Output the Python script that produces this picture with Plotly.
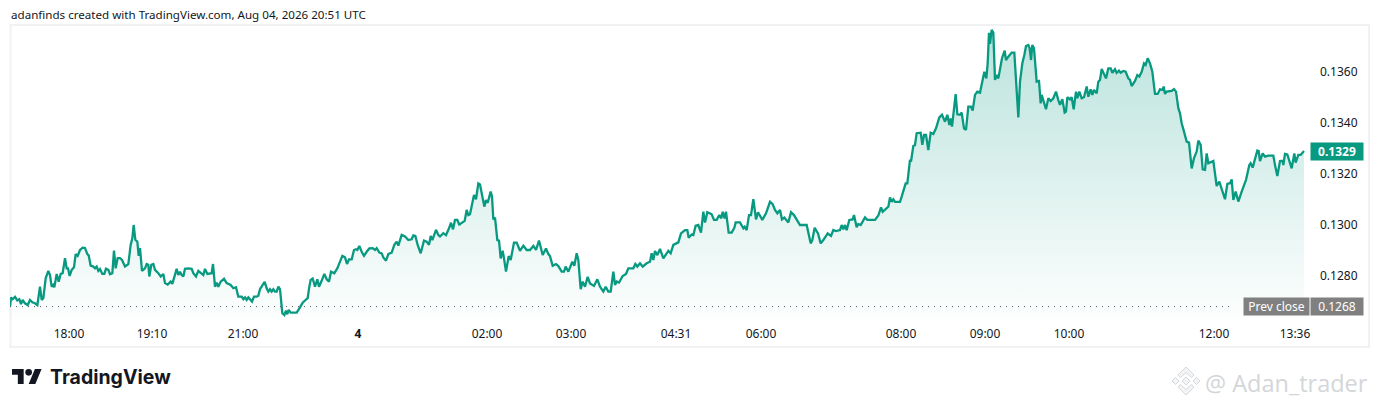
import plotly.graph_objects as go

# ---- data -----------------------------------------------------------------
bars = [30,33,38,45,52,58,63,68,75,83,90,97,105,112,120,125,130,137,145,150,155,160,163,170,176,182,188,195,200,204,209,215,222,227,233,240,248,255,262,266,272,280,285,290,295,300,307,313,318,325,330,337,342,347,353,360,366,375,385,392,397,401,406,412,416,420,426,435,440,445,448,454,460,465,475,482,490,495,503,512,517,522,530,535,540,545,550,555,565,575,580,588,595,603,610,615,622,635,639,645,650,655,662,672,680,692,700,708,715,725,730,735,740,745,750,756,762,770,775,780,788,794,800,805,810,815,820,825,830,835,840,847,853,858,862,866,872,890,900,908,915,923,928,932,938,945,952,957,965,973,980,987,993,1003,1012,1020,1027,1035,1041,1047,1055,1062,1068,1072,1078,1085,1092,1100,1108,1118,1125,1130,1138,1145,1150,1158,1165,1175,1183,1190,1195,1205,1215,1225,1235,1240,1246,1253,1262,1272,1280,1287,1292,1297,1308,1315,1320,1330,1338,1347,1353,1359,1365,1372,1378,
1380,1388,1394,1400,1405,1410,1422,1428,1435,1440,1447,1453,1458,1463,1472,1476,1480,1485,1492,1497,1502,1508,1512,1518,1526,1532,1542,1550,1560,1570,1580,1590,1600,1608,1617,1628,1638,1645,1650,1658,1668,1675,1685,1692,1697,1705,1717,1723,1730,1735,1742,1748,1755,1763,1770,1782,1792,1800,1810,1817,1825,1832,1840,1845,1850,1857,1868,1878,1885,1900,1906,1912,1920,1928,1940,1950,1955,1960,1965,1972,1980,1990,2005,2012,2020,2035,2043,2055,2062,2066,2075,2080,2087,2095,2103,2110,2115,2122,2135,2142,2150,2158,2164,2168,2174,2178,2186,2195,2203,2207,2220,2230,2234,2240,2247,2253,2260,2268,2274,2287,2298,2310,2318,2325,2332,2340,2346,2353,2365,2373,2382,2400,2420,2432,2437,2444,2454,2462,2470,2483,2493,2500,2508,2520,2525,2530,2535,2540,2548,2558,2562,2570,2575,2582,2595,2602,2625,2635,2643,2648,2665,2670,2675,2680,2685,2700,2705,2712,2717,2722,2730,
2733,2740,2745,2750,2762,2767,2772,2778,2785,2792,2800,2808,2818,2826,2835,2842,2848,2852,2856,2862,2867,2872,2880,2885,2892,2898,2905,2913,2918,2925,2932,2940,2947,2953,2959,2963,2967,2970,2975,2980,2985,2990,2995,3000,3006,3014,3018,3025,3035,3043,3048,3055,3060,3067,3073,3078,3085,3089,3093,3097,3102,3110,3117,3122,3125,3132,3138,3145,3152,3160,3168,3175,3180,3187,3194,3198,3202,3210,3215,3221,3228,3232,3238,3245,3252,3260,3265,3272,3277,3282,3290,3295,3300,3305,3312,3318,3325,3332,3337,3345,3350,3357,3362,3370,3377,3385,3390,3395,3405,3412,3418,3425,3432,3437,3443,3450,3457,3465,3473,3480,3488,3491,3495,3500,3515,3522,3528,3535,3540,3545,3552,3560,3567,3575,3582,3590,3595,3602,3608,3615,3620,3625,3640,3650,3658,3670,3675,3682,3690,3695,3700,3707,3715,3725,3738,3748,3752,3758,3765,3772,3776,3780,3788,3795,3805,3820,3825,3832,3840,3848,3850,3855,3862,3875,3883,3887,3895,3902,3912]

prices = [0.12680,0.12716,0.12709,0.12718,0.12704,0.12709,0.12690,0.12706,0.12693,0.12686,0.12706,0.12697,0.12693,0.12686,0.12758,0.12706,0.12713,0.12791,0.12820,0.12804,0.12758,0.12765,0.12756,0.12808,0.12778,0.12808,0.12811,0.12870,0.12830,0.12830,0.12800,0.12824,0.12834,0.12886,0.12879,0.12902,0.12911,0.12910,0.12886,0.12881,0.12841,0.12837,0.12830,0.12837,0.12820,0.12827,0.12808,0.12808,0.12829,0.12824,0.12807,0.12811,0.12900,0.12830,0.12870,0.12870,0.12863,0.12837,0.12847,0.12922,0.12948,0.13000,0.12942,0.12935,0.12879,0.12909,0.12820,0.12830,0.12847,0.12844,0.12798,0.12844,0.12847,0.12824,0.12811,0.12798,0.12808,0.12772,0.12766,0.12778,0.12769,0.12791,0.12828,0.12804,0.12817,0.12804,0.12798,0.12828,0.12830,0.12828,0.12811,0.12798,0.12820,0.12811,0.12804,0.12828,0.12808,0.12811,0.12847,0.12758,0.12774,0.12758,0.12778,0.12789,0.12772,0.12765,0.12752,0.12756,0.12719,0.12719,0.12709,0.12716,0.12706,0.12716,0.12709,0.12700,0.12719,0.12719,0.12723,0.12748,0.12765,0.12777,0.12752,0.12739,0.12748,0.12739,0.12748,0.12739,0.12739,0.12758,0.12748,0.12654,0.12647,0.12664,0.12650,0.12667,0.12656,0.12656,0.12677,0.12695,0.12704,0.12713,0.12758,0.12785,0.12790,0.12758,0.12787,0.12758,0.12781,0.12808,0.12787,0.12778,0.12817,0.12811,0.12830,0.12857,0.12879,0.12873,0.12847,0.12865,0.12865,0.12902,0.12905,0.12902,0.12918,0.12895,0.12879,0.12895,0.12908,0.12909,0.12902,0.12909,0.12892,0.12889,0.12873,0.12860,0.12886,0.12892,0.12922,0.12935,0.12919,0.12961,0.12955,0.12941,0.12944,0.12959,0.12957,0.12922,0.12889,0.12939,0.12935,0.12922,0.12957,0.12941,0.12981,0.12961,0.12955,0.12968,0.12960,0.12987,0.13009,0.12983,0.13020,0.13020,0.13000,
0.13004,0.13013,0.13016,0.13059,0.13039,0.13042,0.13118,0.13101,0.13163,0.13159,0.13111,0.13072,0.13098,0.13087,0.13131,0.13111,0.13022,0.13029,0.12941,0.12939,0.12869,0.12899,0.12869,0.12817,0.12878,0.12863,0.12931,0.12931,0.12899,0.12919,0.12902,0.12902,0.12918,0.12902,0.12939,0.12882,0.12908,0.12886,0.12878,0.12840,0.12847,0.12839,0.12817,0.12817,0.12837,0.12817,0.12856,0.12840,0.12889,0.12863,0.12748,0.12778,0.12758,0.12797,0.12771,0.12761,0.12787,0.12758,0.12739,0.12758,0.12739,0.12739,0.12817,0.12765,0.12778,0.12774,0.12800,0.12808,0.12830,0.12830,0.12847,0.12837,0.12850,0.12837,0.12850,0.12856,0.12889,0.12863,0.12898,0.12882,0.12906,0.12869,0.12899,0.12889,0.12922,0.12932,0.12967,0.12980,0.12980,0.12950,0.12963,0.12961,0.12997,0.13000,0.12970,0.13052,0.13010,0.13050,0.13042,0.13020,0.13020,0.13039,0.13026,0.13052,0.13026,0.13052,0.12970,0.12970,0.12989,0.13010,0.13010,0.12987,0.12993,0.12980,0.13039,0.13039,0.13101,0.13022,0.13050,0.13020,0.13046,0.13091,0.13082,0.13059,0.13046,0.13059,0.13022,0.13029,0.13010,0.13050,0.13039,0.13000,0.13000,0.12928,0.12941,0.12989,0.12967,0.12928,0.12941,0.12967,0.12957,0.12980,0.12976,0.12980,0.13000,0.12983,0.13000,0.12980,0.13020,0.13022,0.13039,0.12991,0.13004,0.13000,0.13030,0.13020,0.13020,0.13037,0.13069,0.13052,0.13072,0.13108,0.13091,0.13101,0.13091,0.13091,0.13111,0.13137,0.13163,0.13163,0.13255,
0.13249,0.13310,0.13314,0.13360,0.13362,0.13314,0.13353,0.13353,0.13294,0.13362,0.13357,0.13379,0.13422,0.13432,0.13405,0.13432,0.13392,0.13418,0.13386,0.13471,0.13513,0.13434,0.13432,0.13441,0.13379,0.13373,0.13464,0.13464,0.13449,0.13510,0.13523,0.13519,0.13569,0.13601,0.13575,0.13634,0.13754,0.13710,0.13765,0.13754,0.13569,0.13588,0.13575,0.13614,0.13654,0.13684,0.13647,0.13660,0.13676,0.13676,0.13556,0.13422,0.13562,0.13634,0.13667,0.13702,0.13706,0.13693,0.13647,0.13706,0.13693,0.13562,0.13565,0.13477,0.13510,0.13477,0.13454,0.13497,0.13486,0.13497,0.13523,0.13490,0.13471,0.13493,0.13441,0.13445,0.13501,0.13493,0.13501,0.13454,0.13523,0.13497,0.13523,0.13497,0.13501,0.13543,0.13503,0.13532,0.13510,0.13530,0.13516,0.13562,0.13569,0.13612,0.13588,0.13575,0.13614,0.13614,0.13597,0.13611,0.13597,0.13605,0.13597,0.13604,0.13601,0.13575,0.13569,0.13545,0.13565,0.13588,0.13582,0.13601,0.13634,0.13628,0.13654,0.13634,0.13601,0.13514,0.13514,0.13532,0.13530,0.13543,0.13514,0.13523,0.13526,0.13533,0.13523,0.13458,0.13438,0.13399,0.13366,0.13327,0.13323,0.13222,0.13262,0.13288,0.13331,0.13314,0.13218,0.13216,0.13281,0.13242,0.13251,0.13153,0.13170,0.13118,0.13101,0.13161,0.13164,0.13179,0.13098,0.13131,0.13092,0.13131,0.13177,0.13235,0.13242,0.13225,0.13255,0.13292,0.13290,0.13251,0.13281,0.13268,0.13272,0.13272,0.13235,0.13192,0.13251,0.13252,0.13235,0.13279,0.13277,0.13222,0.13281,0.13245,0.13275,0.13275,0.13290]

if len(bars) != len(prices):
    raise SystemExit(f"length mismatch bars={len(bars)} prices={len(prices)}")

last_price = 0.1329
prev_close = 0.1268
y_ticks = [0.1280, 0.1300, 0.1320, 0.1340, 0.1360]
x_tick_bars = [207, 456, 729, 1074, 1461, 1713, 2028, 2283, 2703, 2955, 3207, 3642, 3885]
x_tick_text = ["18:00", "19:10", "21:00", "<b>4</b>", "02:00", "03:00", "04:31", "06:00", "08:00", "09:00", "10:00", "12:00", "13:36"]

# ---- page geometry ---------------------------------------------------------
W, H = 1378, 407
L, R, T, B = 10, 1310, 26, 318
LINE = "#089981"
TEXT = "#131722"
FONT = "Trebuchet MS, Noto Sans, sans-serif"

def px(x):
    return (x - L) / (R - L)

def py(y):
    return (B - y) / (B - T)

fig = go.Figure()
axis_bottom = 0.126353
fig.add_trace(go.Scatter(x=bars, y=[axis_bottom] * len(bars), mode="lines",
                         line=dict(width=0), hoverinfo="skip", showlegend=False))
fig.add_trace(go.Scatter(x=bars, y=prices, mode="lines", fill="tonexty",
                         fillgradient=dict(type="vertical", start=0.1378, stop=axis_bottom,
                                           colorscale=[[0, "rgba(8,153,129,0.28)"], [1, "rgba(8,153,129,0.01)"]]),
                         line=dict(color=LINE, width=2.3), hoverinfo="skip", showlegend=False))

shapes = [
    dict(type="rect", xref="paper", yref="paper", x0=px(10.5), x1=px(1369), y0=py(347), y1=py(25),
         line=dict(color="#f0f1f3", width=2), fillcolor="rgba(0,0,0,0)", layer="below"),
    dict(type="line", xref="x", yref="y", x0=bars[0], x1=3699, y0=prev_close, y1=prev_close,
         line=dict(color="#555a66", width=1, dash="1px 5px")),
]

# TradingView logo
s = 30 / 36
def lx(v): return 12 + v * s
def ly(v): return 369 + (v - 4) * s
def path(points):
    return "M" + " L".join(f"{px(lx(a)):.5f},{py(ly(b)):.5f}" for a, b in points) + " Z"
for pts in ([(14, 22), (7, 22), (7, 11), (0, 11), (0, 4), (14, 4)], [(28, 22), (20, 22), (27.5, 4), (35.5, 4)]):
    shapes.append(dict(type="path", xref="paper", yref="paper", path=path(pts), fillcolor="#131722", line=dict(width=0)))
shapes.append(dict(type="circle", xref="paper", yref="paper", x0=px(lx(16)), x1=px(lx(24)), y0=py(ly(12)), y1=py(ly(4)),
                   fillcolor="#131722", line=dict(width=0)))

# Binance watermark mark
cx, cy = 1186, 381
def wpath(points, close=False):
    d = "M" + " L".join(f"{px(cx + a):.5f},{py(cy + b):.5f}" for a, b in points)
    return d + (" Z" if close else "")
marks = [([(-4, 0), (0, -4), (4, 0), (0, 4)], True),
         ([(-14, 0), (-10.5, -3.5), (-7, 0), (-10.5, 3.5)], True),
         ([(14, 0), (10.5, -3.5), (7, 0), (10.5, 3.5)], True),
         ([(-8, -6), (0, -14), (8, -6), (5.5, -3.5), (0, -8.5), (-5.5, -3.5)], True),
         ([(-8, 6), (0, 14), (8, 6), (5.5, 3.5), (0, 8.5), (-5.5, 3.5)], True)]
for pts, c in marks:
    shapes.append(dict(type="path", xref="paper", yref="paper", path=wpath(pts, c),
                       fillcolor="#f3f4f5", line=dict(color="#d6d9dc", width=1)))

def label(text, x, y, yref="paper", **kw):
    base = dict(text=text, xref="paper", yref=yref, x=x, y=y, showarrow=False, xanchor="left", yanchor="middle")
    base.update(kw)
    return base

annotations = [
    label("adanfinds created with TradingView.com, Aug 04, 2026 20:51 UTC", px(10), py(15),
          font=dict(family=FONT, size=11.6, color=TEXT), borderpad=0),
    label(f"<b>{last_price:.4f}</b>", px(1310), last_price, yref="y", xanchor="left", width=52, height=17,
          bgcolor=LINE, align="center", font=dict(family=FONT, size=12, color="#ffffff"), borderpad=0),
    label("Prev close", px(1243), prev_close, yref="y", width=65, height=17, bgcolor="#808080", align="center",
          font=dict(family=FONT, size=12, color="#ffffff"), borderpad=0),
    label(f"{prev_close:.4f}", px(1310), prev_close, yref="y", width=52, height=17, bgcolor="#808080", align="center",
          font=dict(family=FONT, size=12, color="#ffffff"), borderpad=0),
    label("<b>TradingView</b>", px(47.5), py(377), font=dict(family="Inter, Noto Sans, sans-serif", size=19.5, color="#131722")),
    label("@ Adan_trader", px(1203), py(382.5), font=dict(family="Open Sans, sans-serif", size=23.5, color="#d3d6d9")),
]

fig.update_layout(
    width=W, height=H, autosize=False,
    margin=dict(l=L, r=W - R, t=T, b=H - B, pad=0),
    paper_bgcolor="#ffffff", plot_bgcolor="#ffffff", showlegend=False,
    xaxis=dict(range=[30, 3930], tickmode="array", tickvals=x_tick_bars, ticktext=x_tick_text,
               showgrid=False, zeroline=False, showline=False, ticks="", ticklabelstandoff=7,
               tickfont=dict(family=FONT, size=12, color=TEXT), fixedrange=True),
    yaxis=dict(range=[axis_bottom, 0.137804], side="right", tickmode="array", tickvals=y_ticks,
               ticktext=[f"{v:.4f}" for v in y_ticks], showgrid=False, zeroline=False, showline=False, ticks="",
               ticklabelstandoff=9, tickfont=dict(family=FONT, size=12, color=TEXT), fixedrange=True),
    shapes=shapes, annotations=annotations,
)

fig.write_html("out.html", config=dict(displayModeBar=False),
               post_script="document.body.style.margin='0';document.documentElement.style.overflow='hidden';")
